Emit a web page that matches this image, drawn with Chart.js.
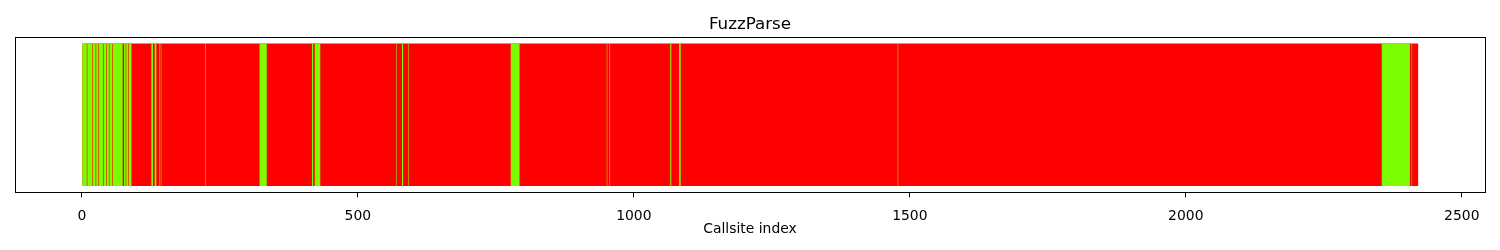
<!DOCTYPE html>
<html>
<head>
<meta charset="utf-8">
<title>FuzzParse</title>
<script src="https://cdn.jsdelivr.net/npm/chart.js@4/dist/chart.umd.min.js"></script>
<style>
    html, body { margin: 0; padding: 0; background: #fff; }
    canvas { display: block; }
</style>
</head>
<body>
<canvas id="fuzzChart" width="1500" height="250"></canvas>
<script>
// Данные: число callsite и участки, покрытые зелёным (остальное красное)
const callsiteCount = 2421;
const greenStarts = [0, 10, 20, 26, 31, 40, 45, 50, 56, 76.5, 80.5, 85, 126, 132, 140, 143, 224, 322, 417, 422, 570, 580, 591, 777, 951, 956, 1066, 1082, 1478, 2355, 2409];
const greenEnds   = [9, 19, 25, 30, 39, 44, 49, 55, 74, 79.5, 84, 90, 129, 135, 141, 144, 225, 335, 419, 432, 571, 582, 592, 793, 952, 957, 1068, 1085, 1479, 2406, 2410];
const tickValues = [0, 500, 1000, 1500, 2000, 2500];
const rowLabels = ['FuzzParse'];

const RED = '#ff0000';
const GREEN = '#7cfc00';
const FONT = 'DejaVu Sans';

Chart.defaults.color = '#000';
Chart.defaults.font.family = FONT;

// Рамка вокруг области графика (как spines в matplotlib)
const framePlugin = {
    id: 'frame',
    afterDraw(chart) {
        const a = chart.chartArea;
        const ctx = chart.ctx;
        ctx.save();
        ctx.strokeStyle = '#000';
        ctx.lineWidth = 1;
        ctx.strokeRect(Math.round(a.left) + 0.5, Math.round(a.top) + 0.5,
            Math.round(a.right - a.left), Math.round(a.bottom - a.top));
        ctx.restore();
    }
};

const greenData = greenStarts.map((s, i) => ({ x: [s, greenEnds[i]], y: rowLabels[0] }));
const redData = [{ x: [0, callsiteCount], y: rowLabels[0] }];

const span = callsiteCount * 0.05;

new Chart(document.getElementById('fuzzChart'), {
    type: 'bar',
    data: {
        labels: rowLabels,
        datasets: [
            {
                label: 'covered',
                data: greenData,
                backgroundColor: GREEN,
                borderWidth: 0,
                grouped: false,
                categoryPercentage: 1,
                barPercentage: 0.916
            },
            {
                label: 'not covered',
                data: redData,
                backgroundColor: RED,
                borderWidth: 0,
                grouped: false,
                categoryPercentage: 1,
                barPercentage: 0.916
            }
        ]
    },
    options: {
        indexAxis: 'y',
        responsive: false,
        animation: false,
        devicePixelRatio: 1,
        layout: { padding: { left: 15, right: 15, top: 0, bottom: 10 } },
        plugins: {
            legend: { display: false },
            tooltip: { enabled: false },
            title: {
                display: true,
                text: 'FuzzParse',
                color: '#000',
                font: { family: FONT, size: 16.7, weight: 'normal' },
                padding: { top: 15, bottom: 2 }
            }
        },
        scales: {
            x: {
                type: 'linear',
                min: -span,
                max: callsiteCount + span,
                afterBuildTicks: axis => {
                    axis.ticks = tickValues.map(v => ({ value: v }));
                },
                grid: {
                    drawOnChartArea: false,
                    drawTicks: true,
                    tickLength: 5,
                    color: '#000',
                    lineWidth: 1
                },
                border: { display: false },
                ticks: {
                    color: '#000',
                    padding: 11,
                    maxRotation: 0,
                    autoSkip: false,
                    font: { family: FONT, size: 13.9 },
                    callback: v => String(v)
                },
                title: {
                    display: true,
                    text: 'Callsite index',
                    color: '#000',
                    font: { family: FONT, size: 13.9, lineHeight: 1 },
                    padding: { top: -14, bottom: 4 }
                }
            },
            y: {
                display: false
            }
        }
    },
    plugins: [framePlugin]
});
</script>
</body>
</html>
